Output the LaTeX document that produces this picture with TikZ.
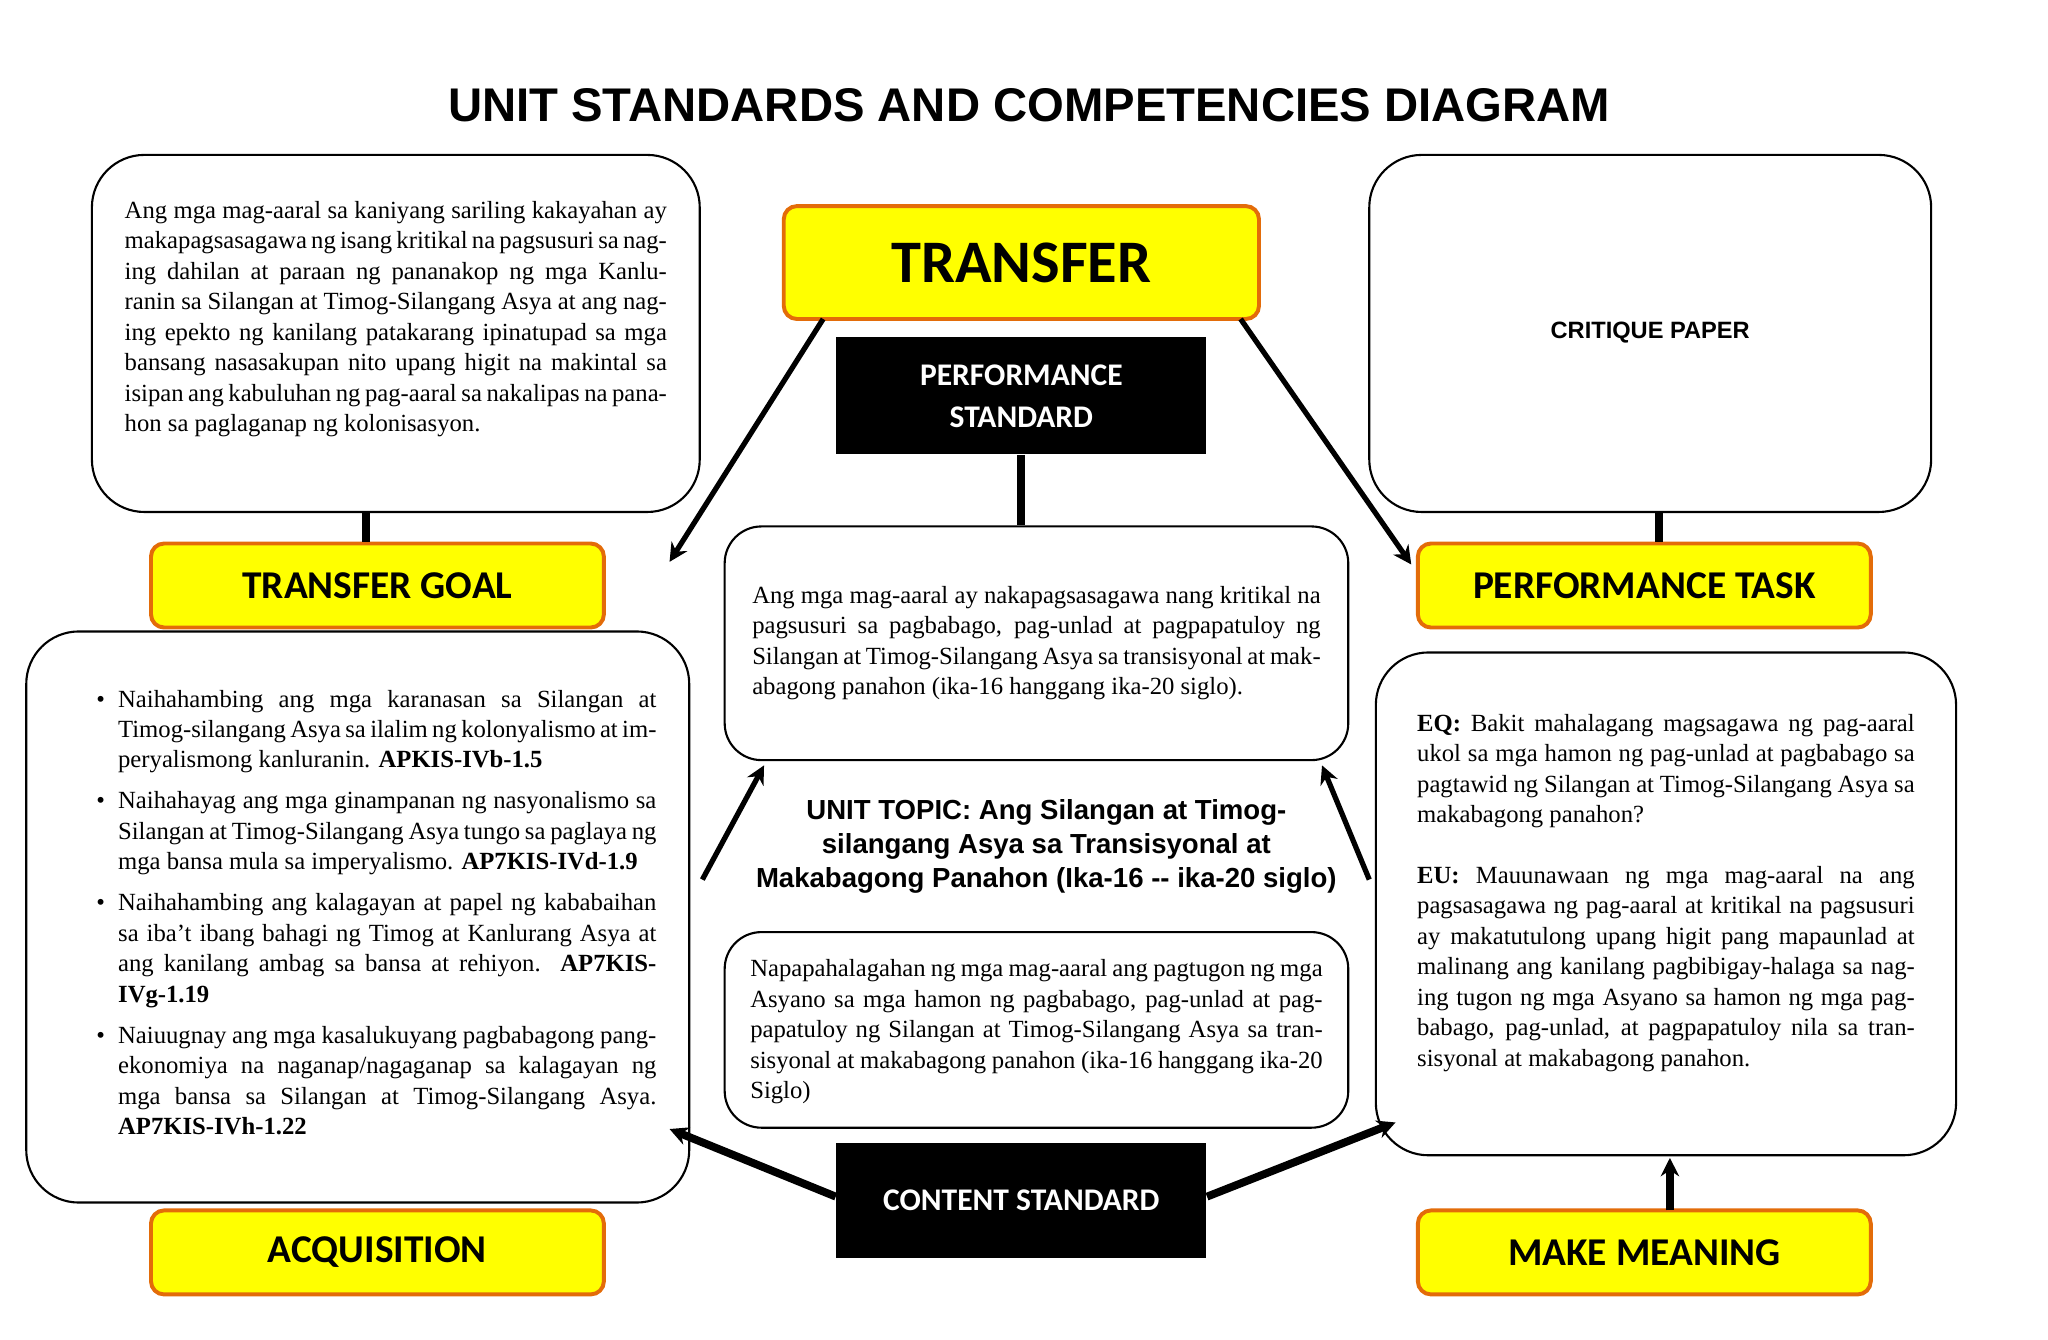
\documentclass[tikz,border=0pt]{standalone}
\usepackage{fontspec}
\setmainfont{Liberation Serif}
\newfontfamily\calfnt{Carlito}
\newfontfamily\arifnt{Liberation Sans}
\usetikzlibrary{arrows.meta}
\definecolor{ybox}{HTML}{FFFF00}
\definecolor{oedge}{HTML}{E36C09}
\tikzset{
 rbox/.style={draw,line width=0.8pt,rounded corners=20pt},
 ylw/.style={draw=oedge,fill=ybox,line width=1.5pt,rounded corners=5pt,font=\calfnt\bfseries\fontsize{15}{18}\selectfont},
 blk/.style={fill=black,text=white,font=\calfnt\bfseries\fontsize{12}{16}\selectfont,align=center},
 btxt/.style={align=justify,font=\fontsize{9.4}{11.6}\selectfont,inner sep=0pt},
 arr/.style={line width=2pt,-{Stealth[length=7pt,width=7pt]}},
 bar/.style={line width=3pt},
}
\begin{document}
\begin{tikzpicture}[x=0.5pt,y=-0.5pt]
\useasboundingbox (0,0) rectangle (1560,1020);
\node[font=\arifnt\bfseries\fontsize{18}{20}\selectfont] (title) at (784,80) {UNIT STANDARDS AND COMPETENCIES DIAGRAM};
% boxes
\node[rbox,minimum width=231.5pt,minimum height=136pt] (tl) at (301.5,254) {};
\node[btxt,text width=206.5pt] (tlt) at (301.5,243) {Ang mga mag-aaral sa kaniyang sariling kakayahan ay makapagsasagawa ng isang kritikal na pagsusuri sa naging dahilan at paraan ng pananakop ng mga Kanluranin sa Silangan at Timog-Silangang Asya at ang naging epekto ng kanilang patakarang ipinatupad sa mga bansang nasasakupan nito upang higit na makintal sa isipan ang kabuluhan ng pag-aaral sa nakalipas na panahon sa paglaganap ng kolonisasyon.};
\node[ylw,minimum width=181pt,minimum height=43pt,font=\calfnt\bfseries\fontsize{23}{26}\selectfont] (transfer) at (778,200) {TRANSFER};
\node[blk,minimum width=141pt,minimum height=44.5pt] (ps) at (778,301.5) {PERFORMANCE\\STANDARD};
\node[rbox,minimum width=214pt,minimum height=136pt] (tr) at (1257,254) {};
\node[font=\arifnt\bfseries\fontsize{9}{11}\selectfont] (crit) at (1257,253) {CRITIQUE PAPER};
\node[ylw,minimum width=172.5pt,minimum height=32pt] (tg) at (287.5,446) {TRANSFER GOAL};
\node[ylw,minimum width=172.5pt,minimum height=32pt] (pt) at (1252.5,446) {PERFORMANCE TASK};
\node[rbox,minimum width=237.5pt,minimum height=89pt,rounded corners=14pt] (ct) at (789.5,490) {};
\node[btxt,text width=216.5pt] (ctt) at (789.5,490) {Ang mga mag-aaral ay nakapagsasagawa nang kritikal na pagsusuri sa pagbabago, pag-unlad at pagpapatuloy ng Silangan at Timog-Silangang Asya sa transisyonal at makabagong panahon (ika-16 hanggang ika-20 siglo).};
\node[rbox,minimum width=252.5pt,minimum height=217.5pt] (lb) at (272.5,698.5) {};
\node[btxt,text width=230pt] (lbt) at (270,695) {\begin{minipage}{230pt}\fontsize{9.4}{11.6}\selectfont
\begin{itemize}\setlength{\leftmargin}{13pt}\setlength{\itemsep}{0pt}\setlength{\parsep}{0pt}\setlength{\topsep}{0pt}
\item[\textbullet] Naihahambing ang mga karanasan sa Silangan at Timog-silangang Asya sa ilalim ng kolonyalismo at imperyalismong kanluranin. \textbf{APKIS-IVb-1.5}
\item[\textbullet] Naihahayag ang mga ginampanan ng nasyonalismo sa Silangan at Timog-Silangang Asya tungo sa paglaya ng mga bansa mula sa imperyalismo. \textbf{AP7KIS-IVd-1.9}
\item[\textbullet] Naihahambing ang kalagayan at papel ng kababaihan sa iba’t ibang bahagi ng Timog at Kanlurang Asya at ang kanilang ambag sa bansa at rehiyon. \textbf{AP7KIS-IVg-1.19}
\item[\textbullet] Naiuugnay ang mga kasalukuyang pagbabagong pang-ekonomiya na naganap/nagaganap sa kalagayan ng mga bansa sa Silangan at Timog-Silangang Asya. \textbf{AP7KIS-IVh-1.22}
\end{itemize}\end{minipage}};
\node[rbox,minimum width=221pt,minimum height=191.5pt] (rb) at (1269,688.5) {};
\node[btxt,text width=189.5pt] (rbt) at (1269,680) {\textbf{EQ:} Bakit mahalagang magsagawa ng pag-aaral ukol sa mga hamon ng pag-unlad at pagbabago sa pagtawid ng Silangan at Timog-Silangang Asya sa makabagong panahon?\par\vspace{11.6pt}
\textbf{EU:} Mauunawaan ng mga mag-aaral na ang pagsasagawa ng pag-aaral at kritikal na pagsusuri ay makatutulong upang higit pang mapaunlad at malinang ang kanilang pagbibigay-halaga sa naging tugon ng mga Asyano sa hamon ng mga pagbabago, pag-unlad, at pagpapatuloy nila sa transisyonal at makabagong panahon.};
\node[font=\arifnt\bfseries\fontsize{10.5}{13}\selectfont,align=center] (topic) at (797,645) {UNIT TOPIC: Ang Silangan at Timog-\\silangang Asya sa Transisyonal at\\Makabagong Panahon (Ika-16 -- ika-20 siglo)};
\node[rbox,minimum width=237.5pt,minimum height=74.5pt,rounded corners=14pt] (cb) at (789.5,784.5) {};
\node[btxt,text width=218pt] (cbt) at (789.5,786) {Napapahalagahan ng mga mag-aaral ang pagtugon ng mga Asyano sa mga hamon ng pagbabago, pag-unlad at pagpapatuloy ng Silangan at Timog-Silangang Asya sa transisyonal at makabagong panahon (ika-16 hanggang ika-20 Siglo)};
\node[blk,minimum width=141pt,minimum height=43.5pt] (cs) at (778,914.5) {CONTENT STANDARD};
\node[ylw,minimum width=172.5pt,minimum height=32pt] (acq) at (287.5,954) {ACQUISITION};
\node[ylw,minimum width=172.5pt,minimum height=32pt] (mm) at (1252.5,954) {MAKE MEANING};
% connectors
\coordinate (a1) at (279,390);
\draw[bar] (a1) -- (a1 |- tg.north);
\coordinate (a2) at (1264,390);
\draw[bar] (a2) -- (a2 |- pt.north);
\draw[bar] (ps.south) -- (ct.north -| ps.south);
\coordinate (t1) at (627,243); \coordinate (t1e) at (510,428);
\draw[arr] (t1) -- (t1e);
\coordinate (t2) at (945,243); \coordinate (t2e) at (1075,430);
\draw[arr] (t2) -- (t2e);
\coordinate (u1) at (535,670); \coordinate (u1e) at (582,583);
\draw[arr] (u1) -- (u1e);
\coordinate (u2) at (1043,670); \coordinate (u2e) at (1007,583);
\draw[arr] (u2) -- (u2e);
\coordinate (c1e) at (510,860); \coordinate (c2e) at (1063,855);
\draw[arr,line width=3pt] (cs.west) ++(0,-3) -- (c1e);
\draw[arr,line width=3pt] (cs.east) ++(0,-3) -- (c2e);
\coordinate (m1) at (1272,922); \coordinate (m2) at (1272,882);
\draw[arr,line width=3pt] (m1) -- (m2);
\end{tikzpicture}
\end{document}
